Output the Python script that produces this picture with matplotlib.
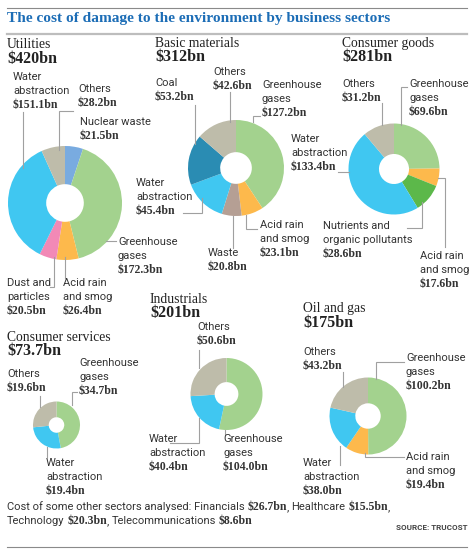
import matplotlib
matplotlib.use("Agg")
import matplotlib.pyplot as plt

W, H = 475, 551
OUT_FILE = "out.png"

SANS = ["Liberation Sans Narrow", "Roboto", "DejaVu Sans"]
SERIF = ["Liberation Serif", "DejaVu Serif"]
TEXT = "#333333"
LEADER = "#a0a0a0"
TITLE_BLUE = "#1c6db6"

TITLE = "The cost of damage to the environment by business sectors"

# --- data -------------------------------------------------------------
SECTORS = ["Utilities", "Basic materials", "Consumer goods",
           "Consumer services", "Industrials", "Oil and gas"]
TOTALS = [420, 312, 281, 73.7, 201, 175]

UTIL_CATS = ["Nuclear waste", "Greenhouse gases", "Acid rain and smog",
             "Dust and particles", "Water abstraction", "Others"]
UTIL_VALS = [21.5, 172.3, 26.4, 20.5, 151.1, 28.2]

BASIC_CATS = ["Greenhouse gases", "Acid rain and smog", "Waste",
              "Water abstraction", "Coal", "Others"]
BASIC_VALS = [127.2, 23.1, 20.8, 45.4, 53.2, 42.6]

GOODS_CATS = ["Greenhouse gases", "Acid rain and smog",
              "Nutrients and organic pollutants", "Water abstraction", "Others"]
GOODS_VALS = [69.6, 17.6, 28.6, 133.4, 31.2]

SERV_CATS = ["Greenhouse gases", "Water abstraction", "Others"]
SERV_VALS = [34.7, 19.4, 19.6]

IND_CATS = ["Greenhouse gases", "Water abstraction", "Others"]
IND_VALS = [104.0, 40.4, 50.6]

OIL_CATS = ["Greenhouse gases", "Acid rain and smog", "Water abstraction", "Others"]
OIL_VALS = [100.2, 19.4, 38.0, 43.2]

OTHER_SECTORS = ["Financials", "Healthcare", "Technology", "Telecommunications"]
OTHER_COSTS = [26.7, 15.5, 20.3, 8.6]
SOURCE = "SOURCE: TRUCOST"

COLORS = {
    "Greenhouse gases": "#a3d28e",
    "Water abstraction": "#40c7f1",
    "Others": "#bebcaa",
    "Nuclear waste": "#79abe0",
    "Acid rain and smog": "#fdb94c",
    "Dust and particles": "#f289b6",
    "Coal": "#2a8cb3",
    "Waste": "#b59f94",
    "Nutrients and organic pollutants": "#5cb84a",
}

LABEL_LINES = {
    "Greenhouse gases": ["Greenhouse", "gases"],
    "Water abstraction": ["Water", "abstraction"],
    "Acid rain and smog": ["Acid rain", "and smog"],
    "Dust and particles": ["Dust and", "particles"],
    "Nutrients and organic pollutants": ["Nutrients and", "organic pollutants"],
    "Nuclear waste": ["Nuclear waste"],
    "Others": ["Others"],
    "Coal": ["Coal"],
    "Waste": ["Waste"],
}

# --- layout (pixels from top-left) -------------------------------------
# head: (x, baseline of name); donut: (cx, cy, r)
# labels: category -> (x, y of first line centre, leader polyline)
LAYOUT = {
    "Utilities": dict(
        head=(7, 48), donut=(65, 203, 57),
        labels={
            "Water abstraction": (13, 77, [(23, 112), (23, 168)]),
            "Others": (78, 89, [(73, 111), (59, 111), (59, 150)]),
            "Nuclear waste": (80, 122, []),
            "Greenhouse gases": (118, 242, [(106, 241), (116, 241)]),
            "Dust and particles": (7, 283, [(50, 287), (54, 287), (54, 257)]),
            "Acid rain and smog": (63, 283, [(65, 257), (65, 278)]),
        }),
    "Basic materials": dict(
        head=(155, 47), donut=(236, 168, 48),
        labels={
            "Coal": (155, 83, [(195, 105), (195, 144)]),
            "Others": (213, 72, [(230, 92), (230, 122)]),
            "Greenhouse gases": (262, 85, [(253, 122), (253, 116), (260, 116)]),
            "Water abstraction": (136, 183, [(183, 213), (202, 213), (202, 198)]),
            "Waste": (208, 253, [(233, 216), (233, 248)]),
            "Acid rain and smog": (260, 225, [(246, 215), (246, 229), (257, 229)]),
        }),
    "Consumer goods": dict(
        head=(342, 47), donut=(394, 169, 45.5),
        labels={
            "Others": (342, 84, [(382, 103), (382, 125)]),
            "Greenhouse gases": (409, 84, [(401, 125), (401, 87), (407, 87)]),
            "Water abstraction": (291, 139, [(338, 172), (349, 172)]),
            "Nutrients and organic pollutants": (323, 226, [(422, 202), (422, 228), (407, 228)]),
            "Acid rain and smog": (420, 256, [(438, 178), (445, 178), (445, 247)]),
        }),
    "Consumer services": dict(
        head=(7, 341), donut=(56.5, 425, 23.5),
        labels={
            "Others": (7, 374, [(40, 396), (40, 407)]),
            "Greenhouse gases": (79, 363, [(72, 405), (72, 392), (77, 392)]),
            "Water abstraction": (46, 463, [(47, 447), (47, 457)]),
        }),
    "Industrials": dict(
        head=(150, 303), donut=(226.5, 394, 36),
        labels={
            "Others": (197, 327, [(199, 350), (199, 368)]),
            "Water abstraction": (149, 439, [(170, 443), (199, 443), (199, 418)]),
            "Greenhouse gases": (223, 439, [(225, 430), (225, 435)]),
        }),
    "Oil and gas": dict(
        head=(303, 312), donut=(368, 416, 38.5),
        labels={
            "Others": (303, 352, [(343, 372), (343, 387)]),
            "Greenhouse gases": (406, 358, [(376, 379), (376, 362), (404, 362)]),
            "Acid rain and smog": (406, 457, [(365, 453), (365, 457), (404, 457)]),
            "Water abstraction": (303, 463, [(340, 446), (340, 465)]),
        }),
}

CATS = [UTIL_CATS, BASIC_CATS, GOODS_CATS, SERV_CATS, IND_CATS, OIL_CATS]
VALS = [UTIL_VALS, BASIC_VALS, GOODS_VALS, SERV_VALS, IND_VALS, OIL_VALS]

LINE_STEP = 13.8
LABEL_SIZE = 8
VALUE_SIZE = 8.5
HOLE = 0.33


def Y(y):
    return H - y


def money(v):
    return f"${v:.1f}bn"


def sans(ax, x, y, s, **kw):
    return ax.text(x, Y(y), s, family=SANS, fontsize=LABEL_SIZE, color=TEXT,
                   ha="left", va="center", **kw)


def serif_bold(ax, x, y, s):
    return ax.text(x, Y(y), s, family=SERIF, fontweight="bold",
                   fontsize=VALUE_SIZE, color=TEXT, ha="left", va="center")


def draw_label(ax, x, y, cat, value):
    lines = LABEL_LINES[cat]
    for i, ln in enumerate(lines):
        sans(ax, x, y + i * LINE_STEP, ln)
    serif_bold(ax, x, y + len(lines) * LINE_STEP, money(value))


def draw_sector(ax, name, total, cats, vals):
    lay = LAYOUT[name]
    hx, hy = lay["head"]
    ax.text(hx, Y(hy), name, family=SERIF, fontsize=9.8, color="#222222",
            ha="left", va="baseline")
    ax.text(hx, Y(hy + 14.5), f"${total:g}bn", family=SERIF, fontweight="bold",
            fontsize=11.5, color="#222222", ha="left", va="baseline")

    cx, cy, r = lay["donut"]
    ax.pie(vals, colors=[COLORS[c] for c in cats], startangle=90,
           counterclock=False, radius=r, center=(cx, Y(cy)),
           wedgeprops=dict(width=r * (1 - HOLE), linewidth=0))

    for cat, v in zip(cats, vals):
        lx, ly, leader = lay["labels"][cat]
        draw_label(ax, lx, ly, cat, v)
        if leader:
            ax.plot([p[0] for p in leader], [Y(p[1]) for p in leader],
                    color=LEADER, lw=0.8, solid_joinstyle="miter")


def footer_line(ax, fig, x, y, pieces):
    renderer = fig.canvas.get_renderer()
    inv = ax.transData.inverted()
    for txt, is_value, gap_after in pieces:
        t = serif_bold(ax, x, y, txt) if is_value else sans(ax, x, y, txt)
        ext = t.get_window_extent(renderer)
        x = inv.transform((ext.x1, 0))[0] + gap_after


def main():
    fig = plt.figure(figsize=(W / 100, H / 100), dpi=100)
    ax = fig.add_axes([0, 0, 1, 1])

    ax.text(7, Y(22), TITLE, family=SERIF, fontweight="bold", fontsize=11.1,
            color=TITLE_BLUE, ha="left", va="baseline")

    for name, total, cats, vals in zip(SECTORS, TOTALS, CATS, VALS):
        draw_sector(ax, name, total, cats, vals)

    ax.set_xlim(0, W)
    ax.set_ylim(0, H)
    ax.set_aspect("equal", adjustable="box")
    ax.axis("off")

    ax.plot([7, 467], [Y(8), Y(8)], color="#8a8a8a", lw=0.8)
    ax.plot([7, 467], [Y(33.5), Y(33.5)], color="#bdbdbd", lw=1.6)
    ax.plot([7, 467], [Y(547), Y(547)], color="#8a8a8a", lw=0.8)

    s, c = OTHER_SECTORS, OTHER_COSTS
    sp = 2.6
    footer_line(ax, fig, 7, 507, [
        ("Cost of some other sectors analysed: " + s[0], False, sp),
        (money(c[0]), True, 0),
        (",", False, sp),
        (s[1], False, sp),
        (money(c[1]), True, 0),
        (",", False, 0),
    ])
    footer_line(ax, fig, 7, 521, [
        (s[2], False, sp),
        (money(c[2]), True, 0),
        (",", False, sp),
        (s[3], False, sp),
        (money(c[3]), True, 0),
    ])
    ax.text(467, Y(527), SOURCE, family=SANS, fontsize=5.8, fontweight="bold",
            color="#444444", ha="right", va="center")

    fig.savefig(OUT_FILE, dpi=100)


if __name__ == "__main__":
    main()
